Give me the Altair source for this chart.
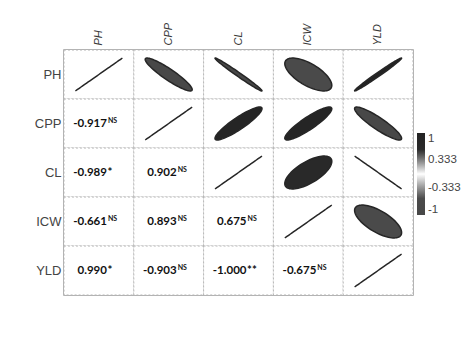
import math
import altair as alt
import pandas as pd

variables = ["PH", "CPP", "CL", "ICW", "YLD"]

# pairwise correlations (row, col) for the upper triangle
pairs = [
    ("PH", "CPP", -0.917, "NS"),
    ("PH", "CL", -0.989, "*"),
    ("PH", "ICW", -0.661, "NS"),
    ("PH", "YLD", 0.990, "*"),
    ("CPP", "CL", 0.902, "NS"),
    ("CPP", "ICW", 0.893, "NS"),
    ("CPP", "YLD", -0.903, "NS"),
    ("CL", "ICW", 0.675, "NS"),
    ("CL", "YLD", -1.000, "**"),
    ("ICW", "YLD", -0.675, "NS"),
]

legend_values = [1, 0.333, -0.333, -1]


def ellipse_path(r, ax=1.0, ay=0.70, n=80):
    d = math.acos(max(-1.0, min(1.0, r)))
    pts = []
    for k in range(n):
        t = 2 * math.pi * k / n
        x = ax * math.cos(t + d / 2)
        y = -ay * math.cos(t - d / 2)
        pts.append(f"{x:.4f} {y:.4f}")
    return "M " + " L ".join(pts) + " Z"


lookup = {}
for a, b, r, s in pairs:
    lookup[(a, b)] = (r, s)
    lookup[(b, a)] = (r, s)

rows = []
for i, rv in enumerate(variables):
    for j, cv in enumerate(variables):
        if i == j:
            r, s = 1.0, ""
            kind = "ell"
        else:
            r, s = lookup[(rv, cv)]
            kind = "ell" if j > i else "txt"
        rows.append(dict(row=rv, col=cv, r=r, kind=kind,
                         path=ellipse_path(r), main=f"{r:.3f}",
                         star=s if s in ("*", "**") else "",
                         sup="NS" if s == "NS" else ""))

df = pd.DataFrame(rows)

xenc = alt.X("col:N", sort=variables,
             scale=alt.Scale(type="band", paddingInner=0, paddingOuter=0),
             axis=alt.Axis(orient="top", title=None, labelAngle=-90, labelAlign="left",
                           labelBaseline="middle", labelPadding=5, labelFontSize=11,
                           labelFontStyle="italic",
                           labelColor="#3a3a3a", labelFont="Liberation Sans",
                           domain=False, ticks=False, grid=False))
yenc = alt.Y("row:N", sort=variables,
             scale=alt.Scale(type="band", paddingInner=0, paddingOuter=0),
             axis=alt.Axis(title=None, labelAlign="right", labelPadding=3,
                           labelFontSize=13, labelColor="#444", labelFont="Liberation Sans",
                           domain=False, ticks=False, grid=False))

base = alt.Chart(df)

cells = base.mark_rect(fill="white", stroke="#b5b5b5", strokeDash=[2, 2],
                       strokeWidth=1).encode(x=xenc, y=yenc)

color_scale = alt.Scale(domain=[-1, -0.6, 0, 0.6, 1],
                        range=["#474747", "#4b4b4b", "#ffffff", "#2b2b2b", "#232323"])

ells = base.transform_filter(alt.datum.kind == "ell").mark_point(
    filled=True, opacity=1, stroke="#262626", strokeWidth=1.5
).encode(
    x=xenc, y=yenc,
    shape=alt.Shape("path:N", scale=None),
    size=alt.value(2209),
    color=alt.Color("r:Q", scale=color_scale,
                    legend=alt.Legend(orient="none", legendX=353, legendY=83,
                                      direction="vertical", title=None,
                                      gradientLength=82, gradientThickness=8,
                                      gradientStrokeWidth=0,
                                      values=legend_values, format="~g",
                                      labelExpr="replace(datum.label, '\u2212', '-')",
                                      labelFontSize=11.5, labelColor="#444",
                                      labelFont="Liberation Sans", labelOffset=3,
                                      labelOverlap=False)),
)

lower = base.transform_filter(alt.datum.kind == "txt")

txt = lower.mark_text(
    align="right", baseline="middle", dx=8, font="Lato", fontWeight="bold",
    fontSize=11.5, color="#111"
).encode(x=xenc, y=yenc, text="main:N")

stars = lower.mark_text(
    align="left", baseline="middle", dx=8.5, font="Lato", fontWeight="bold",
    fontSize=11.5, color="#111"
).encode(x=xenc, y=yenc, text="star:N")

sup = lower.mark_text(
    align="left", baseline="middle", dx=9, dy=-3, font="Lato", fontWeight="bold",
    fontSize=7, color="#111"
).encode(x=xenc, y=yenc, text="sup:N")

chart = alt.layer(cells, ells, txt, stars, sup).properties(
    width=349, height=245,
    autosize=alt.AutoSizeParams(type="none"),
    padding={"left": 64, "top": 50, "right": 61, "bottom": 60},
    background="white",
).configure_view(stroke="#9a9a9a", strokeWidth=1.5)

chart.save("out.html", embed_options={"renderer": "svg", "actions": False})
